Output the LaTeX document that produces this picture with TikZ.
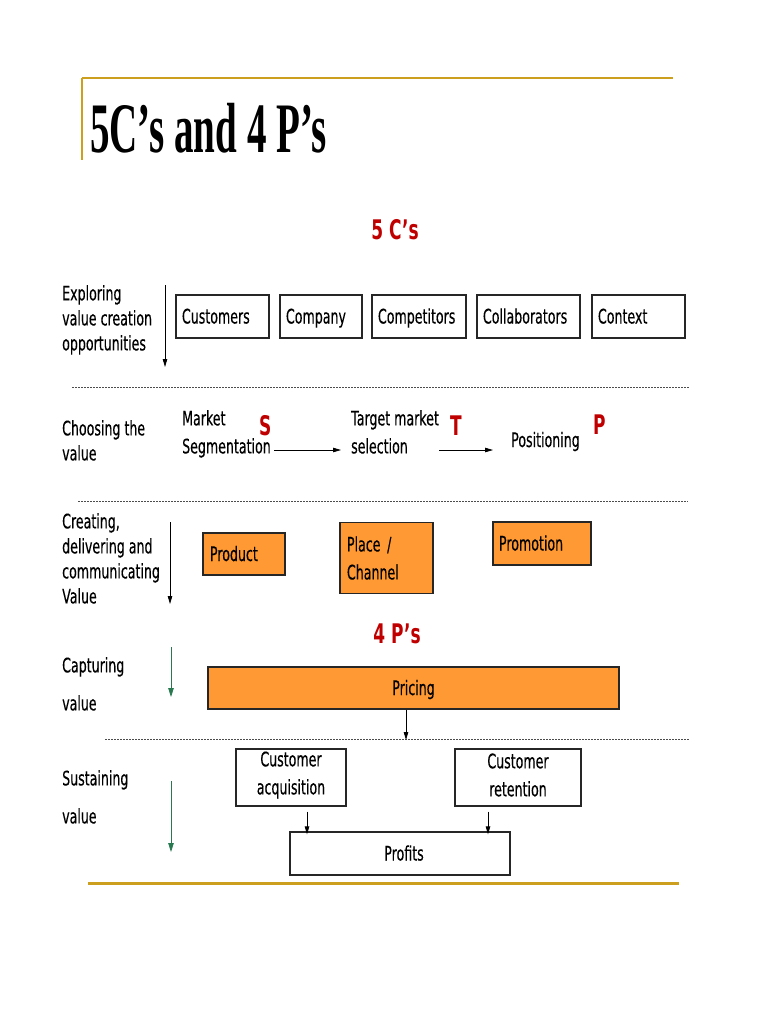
\documentclass[tikz,border=0pt]{standalone}
\usepackage{fontspec}
\setmainfont{DejaVu Sans}[FakeStretch=0.63, UprightFeatures={FakeBold=0.3}]
\newfontfamily\titlefont{Liberation Serif}[FakeStretch=0.55]
\usetikzlibrary{arrows.meta}
\definecolor{goldline}{RGB}{204,160,30}
\definecolor{orangeP}{RGB}{255,153,51}
\definecolor{greenA}{RGB}{40,120,80}
\definecolor{redH}{RGB}{192,0,0}
\begin{document}
\begin{tikzpicture}[x=1pt,y=-1pt,
  lbl/.style={font=\fontsize{20}{25}\selectfont, inner sep=0pt, align=left},
  box/.style={draw=black!85, line width=1.3pt, inner sep=0pt, font=\fontsize{20}{28}\selectfont},
  obox/.style={box, fill=orangeP},
  onel/.style={text height=16.5pt, text depth=2.5pt},
  boxtext/.style={inner sep=0pt, font=\fontsize{20}{28}\selectfont, align=center},
  arr/.style={-{Triangle[length=8pt,width=4.5pt]}, line width=0.8pt, draw=black},
  garr/.style={line width=0.8pt, draw=greenA, -{Triangle[length=9pt,width=5.5pt,fill=greenA]}},
  sepline/.style={draw=black!70, line width=1pt, dash pattern=on 1.5pt off 1.5pt},
  goldl/.style={draw=goldline, line width=2.5pt},
  redhead/.style={font=\fontsize{27}{30}\selectfont\bfseries, text=redH, inner sep=0pt},
  redletter/.style={font=\fontsize{27}{30}\selectfont\bfseries, text=redH, inner sep=0pt, anchor=base west}
]
\useasboundingbox (0,0) rectangle (768,1024);
\fill[white] (0,0) rectangle (768,1024);

% gold frame lines
\draw[goldl] (82,78) -- (673,78);
\draw[goldl, line width=2pt] (82,78) -- (82,160);
\draw[goldl, line width=3pt] (88,883) -- (679,883);

% title
\node[anchor=base west, inner sep=0pt, font=\fontsize{71}{75}\selectfont\titlefont\bfseries] (title) at (90,153) {5C’s and 4 P’s};

% headings
\node[redhead, anchor=base] (fivec) at (395,240) {5 C’s};
\node[redhead, anchor=base] (fourp) at (397,643) {4 P’s};

% left labels
\node[lbl, anchor=north west] (l1) at (62,285) {Exploring\\value creation\\opportunities};
\node[lbl, anchor=north west] (l2) at (62,420) {Choosing the\\value};
\node[lbl, anchor=north west] (l3) at (62,513) {Creating,\\delivering and\\communicating\\Value};
\node[lbl, anchor=north west] (l4) at (62,657) {Capturing\\[13pt]value};
\node[lbl, anchor=north west] (l5) at (62,770) {Sustaining\\[13pt]value};

% left arrows
\coordinate (a1s) at (165,285); \coordinate (a1e) at (165,367);
\coordinate (a2s) at (170,522); \coordinate (a2e) at (170,604);
\coordinate (g1s) at (171,647); \coordinate (g1e) at (171,697);
\coordinate (g2s) at (171,781); \coordinate (g2e) at (171,852);
\draw[arr] (a1s) -- (a1e);
\draw[arr] (a2s) -- (a2e);
\draw[garr] (g1s) -- (g1e);
\draw[garr] (g2s) -- (g2e);

% 5 C's boxes
\node[box, onel, minimum width=93pt, minimum height=43pt, text width=81pt, align=left] (cust) at (222.5,316.5) {Customers};
\node[box, onel, minimum width=82pt, minimum height=43pt, text width=70pt, align=left] (comp) at (321,316.5) {Company};
\node[box, onel, minimum width=94pt, minimum height=43pt, text width=82pt, align=left] (compet) at (419,316.5) {Competitors};
\node[box, onel, minimum width=103pt, minimum height=43pt, text width=91pt, align=left] (collab) at (528.5,316.5) {Collaborators};
\node[box, onel, minimum width=93pt, minimum height=43pt, text width=81pt, align=left] (ctx) at (638.5,316.5) {Context};

% separators
\coordinate (s1a) at (72,387); \coordinate (s1b) at (690,387);
\coordinate (s2a) at (78,501); \coordinate (s2b) at (688,501);
\coordinate (s3a) at (105,739); \coordinate (s3b) at (690,739);
\draw[sepline] (s1a) -- (s1b);
\draw[sepline] (s2a) -- (s2b);
\draw[sepline] (s3a) -- (s3b);

% STP row
\node[lbl, anchor=north west, font=\fontsize{20}{28}\selectfont] (mseg) at (182,410) {Market\\Segmentation};
\node[lbl, anchor=north west, font=\fontsize{20}{28}\selectfont] (tms) at (351,410) {Target market\\selection};
\node[lbl, anchor=base west] (pos) at (511,447) {Positioning};
\node[redletter] (sS) at (259,435) {S};
\node[redletter] (sT) at (450,435) {T};
\node[redletter] (sP) at (593,434) {P};
\coordinate (m1s) at (274,450); \coordinate (m1e) at (341,450);
\coordinate (m2s) at (439,450); \coordinate (m2e) at (493,450);
\draw[arr] (m1s) -- (m1e);
\draw[arr] (m2s) -- (m2e);

% 4 P's boxes
\node[obox, onel, minimum width=82pt, minimum height=42pt, text width=68pt, align=left] (prod) at (244,554) {Product};
\node[obox, minimum width=93pt, minimum height=71pt, text width=79pt, align=left] (place) at (386.5,558) {Place /\\Channel};
\node[obox, onel, minimum width=98pt, minimum height=43pt, text width=86pt, align=left] (promo) at (542,543.5) {Promotion};
\node[obox, onel, minimum width=411pt, minimum height=42pt, align=center] (pricing) at (413.5,688) {Pricing};

\coordinate (pe) at (406,740);
\draw[arr] ([xshift=-7.5pt]pricing.south) -- (pe);

% sustaining boxes
\node[box, minimum width=110pt, minimum height=57pt] (acq) at (291,777.5) {};
\node[boxtext] (acqt) at (291,775) {Customer\\acquisition};
\node[box, minimum width=126pt, minimum height=57pt] (ret) at (518,777.5) {};
\node[boxtext] (rett) at (518,775) {Customer\\retention};
\node[box, onel, minimum width=220pt, minimum height=43pt, align=center] (profits) at (400,853.5) {\hspace*{8pt}Profits};

\draw[arr] ([xshift=16pt,yshift=-5pt]acq.south) -- ([xshift=-93pt,yshift=-3pt]profits.north);
\draw[arr] ([xshift=-30pt,yshift=-5pt]ret.south) -- ([xshift=88pt,yshift=-3pt]profits.north);
\end{tikzpicture}
\end{document}
